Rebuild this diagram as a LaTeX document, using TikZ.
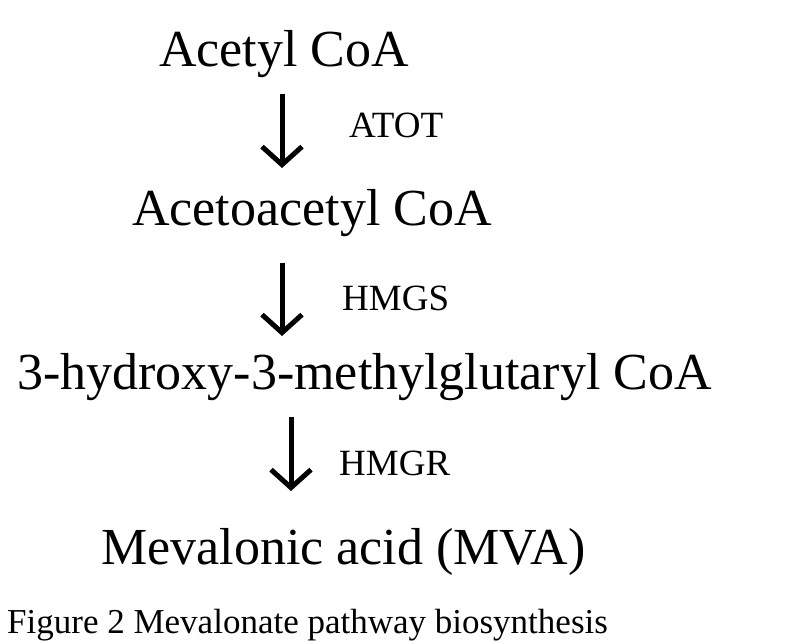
\documentclass[tikz,border=0pt]{standalone}
\usepackage{fontspec}
\setmainfont{Liberation Serif}
\usetikzlibrary{arrows.meta}
\begin{document}
\begin{tikzpicture}[x=1pt,y=-1pt,
  compound/.style={inner sep=0pt,anchor=base west,font=\fontsize{52}{60}\selectfont},
  enzyme/.style={inner sep=0pt,anchor=base west,font=\fontsize{37}{44}\selectfont},
  caption/.style={inner sep=0pt,anchor=base west,font=\fontsize{35}{42}\selectfont},
  reaction/.style={line width=5pt,-{Straight Barb[length=18pt,width=40pt,line width=5pt]}}]
\useasboundingbox (0,0) rectangle (800,644);
\node[compound] (acetyl) at (159,67) {Acetyl CoA};
\node[compound] (acetoacetyl) at (132,226) {Acetoacetyl CoA};
\node[compound] (hmg) at (17,389) {3-hydroxy-3-methylglutaryl CoA};
\node[compound] (mva) at (101,564) {Mevalonic acid (MVA)};
\node[enzyme] (atot) at (349,138) {ATOT};
\node[enzyme] (hmgs) at (342,310) {HMGS};
\node[enzyme] (hmgr) at (339,475) {HMGR};
\node[caption] (cap) at (7,633) {Figure 2 Mevalonate pathway biosynthesis};
\coordinate (a1s) at (282,94);
\coordinate (a1e) at (282,168);
\coordinate (a2s) at (282,263);
\coordinate (a2e) at (282,336);
\coordinate (a3s) at (291,417);
\coordinate (a3e) at (291,491);
\draw[reaction] (a1s) -- (a1e);
\draw[reaction] (a2s) -- (a2e);
\draw[reaction] (a3s) -- (a3e);
\end{tikzpicture}
\end{document}
